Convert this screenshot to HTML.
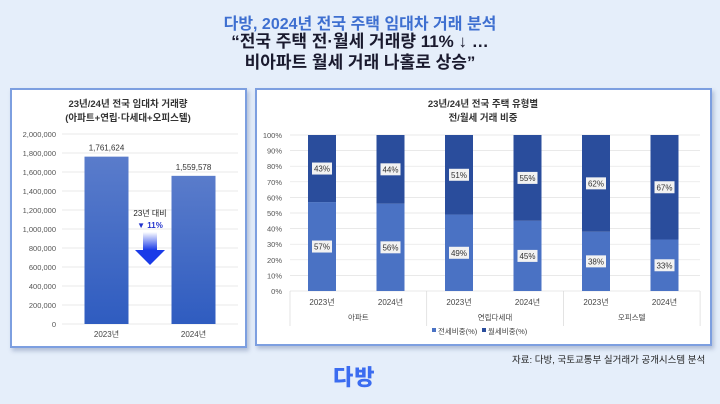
<!DOCTYPE html>
<html><head><meta charset="utf-8">
<style>
body{margin:0;width:720px;height:404px;background:#e5eefa;font-family:"Liberation Sans","Noto Sans CJK KR",sans-serif;overflow:hidden;position:relative}
.t{position:absolute;left:0;width:720px;text-align:center;font-weight:bold}
.panel{position:absolute;background:#fff;border:2px solid #7d9fe0;box-shadow:2px 3px 4px rgba(80,100,150,.35)}
svg text{font-family:"Liberation Sans","Noto Sans CJK KR",sans-serif}
</style></head><body>
<div class="t" style="top:10px;font-size:16px;color:#3e6fd0">다방, 2024년 전국 주택 임대차 거래 분석</div>
<div class="t" style="top:31px;font-size:17px;color:#1a1a2e;line-height:21px">“전국 주택 전·월세 거래량 11% ↓ …<br>비아파트 월세 거래 나홀로 상승”</div>

<div class="panel" style="left:10px;top:88px;width:233px;height:256px"></div>
<div class="panel" style="left:255px;top:88px;width:453px;height:254px"></div>

<svg id="left" width="720" height="404" style="position:absolute;left:0;top:0">
<defs><linearGradient id="bg" x1="0" y1="0" x2="0" y2="1"><stop offset="0" stop-color="#5a7ccb"/><stop offset="1" stop-color="#2f5cc0"/></linearGradient>
<linearGradient id="ag" x1="0" y1="0" x2="0" y2="1"><stop offset="0" stop-color="#fff"/><stop offset="1" stop-color="#1a3be8"/></linearGradient></defs>
<text x="128" y="107" text-anchor="middle" font-size="9.5" font-weight="bold" fill="#333">23년/24년 전국 임대차 거래량</text>
<text x="128" y="121" text-anchor="middle" font-size="9.5" font-weight="bold" fill="#333">(아파트+연립·다세대+오피스텔)</text>
<g id="lg"></g>
<g>
<text x="150" y="216" text-anchor="middle" font-size="8" fill="#222">23년 대비</text>
<text x="150" y="228" text-anchor="middle" font-size="8" fill="#2233cc" font-weight="bold">▼ 11%</text>
<rect x="143" y="232" width="14" height="18" fill="url(#ag)"/>
<polygon points="135,250 165,250 150,265" fill="#1a3be8"/>
</g>
</svg>

<svg id="right" width="720" height="404" style="position:absolute;left:0;top:0">
<text x="483" y="107" text-anchor="middle" font-size="9.5" font-weight="bold" fill="#333">23년/24년 전국 주택 유형별</text>
<text x="483" y="121" text-anchor="middle" font-size="9.5" font-weight="bold" fill="#333">전/월세 거래 비중</text>
<g id="rg"></g>
<g>
<rect x="432" y="328" width="4" height="4" fill="#4a72c4"/><text x="438" y="334" font-size="7.5" fill="#444">전세비중(%)</text>
<rect x="482" y="328" width="4" height="4" fill="#2a4d9c"/><text x="488" y="334" font-size="7.5" fill="#444">월세비중(%)</text>
</g>
</svg>

<div style="position:absolute;left:512px;top:352px;font-size:9.5px;color:#222">자료: 다방, 국토교통부 실거래가 공개시스템 분석</div>
<div style="position:absolute;left:333px;top:360px;font-size:22px;font-weight:900;color:#3b6cf0;letter-spacing:1px">다방</div>

<script>
const volCategories=["2023년","2024년"];
const volValues=[1761624,1559578];
const volTicks=[0,200000,400000,600000,800000,1000000,1200000,1400000,1600000,1800000,2000000];
const shareCats=["2023년","2024년","2023년","2024년","2023년","2024년"];
const shareGroups=["아파트","연립다세대","오피스텔"];
const jeonse=[57,56,49,45,38,33];
const wolse=[43,44,51,55,62,67];
const shareTicks=[0,10,20,30,40,50,60,70,80,90,100];
const NS="http://www.w3.org/2000/svg";
function mk(p,t,a,txt){const e=document.createElementNS(NS,t);for(const k in a)e.setAttribute(k,a[k]);if(txt!=null)e.textContent=txt;p.appendChild(e);return e;}
// left
const lg=document.getElementById('lg');
const ly=v=>324-v/2000000*190;
const lx=i=>106.5+i*87;
volTicks.forEach(t=>{const g=mk(lg,'g',{});


mk(g,'line',{x1:62,x2:238,y1:ly(t),y2:ly(t),stroke:'#e2e2e2','stroke-width':0.7});
mk(g,'text',{x:56,y:ly(t)+3,'text-anchor':'end','font-size':7.5,fill:'#555'},t.toLocaleString('en-US'));});
volValues.forEach((v,i)=>{const r=mk(lg,'rect',{x:lx(i)-22,y:ly(v),width:44,height:324-ly(v),fill:'url(#bg)'});


const l=mk(lg,'text',{x:lx(i),y:ly(v)-6,'text-anchor':'middle','font-size':8,fill:'#333'},v.toLocaleString('en-US'));


const c=mk(lg,'text',{x:lx(i),y:337,'text-anchor':'middle','font-size':8,fill:'#444'},volCategories[i]);

});
// right
const rg=document.getElementById('rg');
const ry=v=>291-v/100*156;
const rx=i=>322+i*68.5;
shareTicks.forEach(t=>{const g=mk(rg,'g',{});


mk(g,'line',{x1:290,x2:700,y1:ry(t),y2:ry(t),stroke:'#e2e2e2','stroke-width':0.7});
mk(g,'text',{x:282,y:ry(t)+3,'text-anchor':'end','font-size':7.5,fill:'#555'},t+'%');});
[0,1,2,3].forEach(k=>{const x=290+k*136.7;mk(rg,'line',{x1:x,x2:x,y1:291,y2:326,stroke:'#d8d8d8','stroke-width':0.7});});
function lbl(x,y,s){const w=20;mk(rg,'rect',{x:x-w/2,y:y-6,width:w,height:12,fill:'#f2f2f2'});const t=mk(rg,'text',{x:x,y:y+3,'text-anchor':'middle','font-size':8,fill:'#333'},s);}
jeonse.forEach((v,i)=>{const x=rx(i);
const a=mk(rg,'rect',{x:x-14,y:ry(v),width:28,height:291-ry(v),fill:'#4a72c4'});


const w=wolse[i];
const b=mk(rg,'rect',{x:x-14,y:ry(v+w),width:28,height:ry(v)-ry(v+w),fill:'#2a4d9c'});


lbl(x,ry(v/2),v+'%');lbl(x,ry(v+w/2),w+'%');
const c=mk(rg,'text',{x:x,y:305,'text-anchor':'middle','font-size':8,fill:'#444'},shareCats[i]);

});
shareGroups.forEach((g,k)=>{const t=mk(rg,'text',{x:290+k*136.7+68.3,y:320,'text-anchor':'middle','font-size':7.5,fill:'#444'},g);

});
</script>
</body></html>
